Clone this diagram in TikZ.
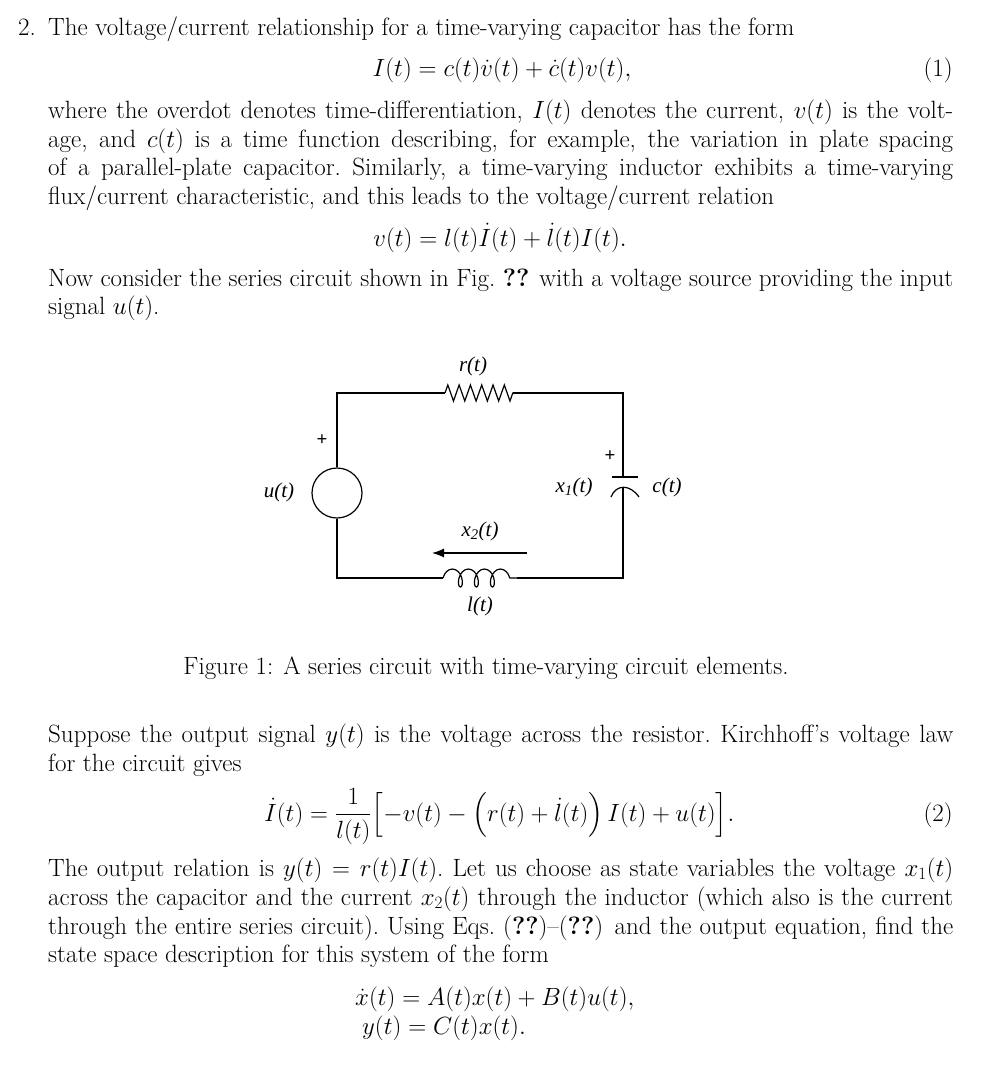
\documentclass[tikz,border=0pt]{standalone}
\usepackage{amsmath}
\usepackage{fontspec}
\newfontfamily\circfont{Liberation Serif}
\usetikzlibrary{decorations.pathmorphing,arrows.meta}
\tikzset{
  txt/.style={anchor=base west,inner sep=0pt,font=\fontsize{25}{28.6}\selectfont},
  eq/.style={anchor=base,inner sep=0pt,font=\fontsize{23.5}{28.6}\selectfont},
  lab/.style={inner sep=0pt,font=\circfont\itshape\fontsize{21}{24}\selectfont},
  plus/.style={inner sep=0pt,font=\circfont\bfseries\fontsize{19}{20}\selectfont},
  wire/.style={line width=1.2pt},
}
\newcommand{\fl}[1]{\makebox[905pt][s]{#1}}
\begin{document}
\begin{tikzpicture}[x=1pt,y=-1pt]
\useasboundingbox[fill=white] (0,0) rectangle (987,1066);
% text
\node[txt] (n2) at (18,35) {2.};
\node[txt] (l1) at (48,35) {The voltage/current relationship for a time-varying capacitor has the form};
\node[eq] (e1) at (502,76) {$I(t)=c(t)\dot v(t)+\dot c(t)v(t),$};
\node[txt,anchor=base east] (e1n) at (953,76) {(1)};
\node[txt] (l2) at (48,118) {\fl{where the overdot denotes time-differentiation, $I(t)$ denotes the current, $v(t)$ is the volt-}};
\node[txt] (l3) at (48,147) {\fl{age, and $c(t)$ is a time function describing, for example, the variation in plate spacing}};
\node[txt] (l4) at (48,175) {\fl{of a parallel-plate capacitor.\ Similarly, a time-varying inductor exhibits a time-varying}};
\node[txt] (l5) at (48,204) {flux/current characteristic, and this leads to the voltage/current relation};
\node[eq] (e2) at (500,246) {$v(t)=l(t)\dot I(t)+\dot l(t)I(t).$};
\node[txt] (l6) at (48,286) {\fl{Now consider the series circuit shown in Fig.\ \textbf{??} with a voltage source providing the input}};
\node[txt] (l7) at (48,314) {signal $u(t)$.};
\node[txt,anchor=base] (cap) at (486,674) {Figure 1: A series circuit with time-varying circuit elements.};
\node[txt] (l8) at (48,742) {\fl{Suppose the output signal $y(t)$ is the voltage across the resistor.\ Kirchhoff's voltage law}};
\node[txt] (l9) at (48,771) {for the circuit gives};
\node[eq,anchor=base west] (e3) at (264,821) {$\displaystyle \dot I(t)=\frac{1}{l(t)}\Bigl[-v(t)-\Bigl(r(t)+\dot l(t)\Bigr)\,I(t)+u(t)\Bigr].$};
\node[txt,anchor=base east] (e3n) at (953,821) {(2)};
\node[txt] (l10) at (48,876) {\fl{The output relation is $y(t)=r(t)I(t)$.\ Let us choose as state variables the voltage $x_1(t)$}};
\node[txt] (l11) at (48,905) {\fl{across the capacitor and the current $x_2(t)$ through the inductor (which also is the current}};
\node[txt] (l12) at (48,934) {\fl{through the entire series circuit).\ Using Eqs.\ (\textbf{??})--(\textbf{??}) and the output equation, find the}};
\node[txt] (l13) at (48,962) {state space description for this system of the form};
\node[eq,anchor=base west] (e4) at (355,1005) {$\dot x(t)=A(t)x(t)+B(t)u(t),$};
\node[eq,anchor=base west] (e5) at (362,1034) {$y(t)=C(t)x(t).$};
% circuit
\coordinate (tl) at (337,393);
\coordinate (tr) at (623,393);
\coordinate (bl) at (337,578);
\coordinate (br) at (623,578);
\coordinate (r1) at (445,393);
\coordinate (r2) at (513,393);
\coordinate (i1) at (443,578);
\coordinate (i2) at (517,578);
\coordinate (c1) at (623,477);
\coordinate (c2) at (623,487);
\node[wire,draw,circle,minimum size=50pt,inner sep=0pt] (src) at (337,493) {};
\draw[wire] (src.north) -- (tl) -- (r1);
\draw[wire,decorate,decoration={zigzag,amplitude=8pt,segment length=11.3pt}] (r1) -- (r2);
\draw[wire] (r2) -- (tr) -- (c1);
\draw[wire] (612,477) -- (638,477);
\draw[wire] (611,497) .. controls (616,484) and (630,484) .. (639,497);
\draw[wire] (c2) -- (br) -- (i2);
\draw[wire,decorate,decoration={coil,aspect=0.6,amplitude=9pt,segment length=16pt}] (i1) -- (i2);
\draw[wire] (i1) -- (bl) -- (src.south);
\coordinate (a1) at (527,553);
\coordinate (a2) at (432,553);
\draw[wire,-{Latex[length=12pt,width=9pt]}] (a1) -- (a2);
\node[lab] (lr) at (473,366) {r(t)};
\node[lab] (lu) at (279,492) {u(t)};
\node[lab] (lx1) at (574,487) {x\textsubscript{1}(t)};
\node[lab] (lc) at (667,487) {c(t)};
\node[lab] (lx2) at (480,531) {x\textsubscript{2}(t)};
\node[lab] (ll) at (480,606) {l(t)};
\node[plus] (p1) at (322,440) {+};
\node[plus] (p2) at (610,456) {+};
\end{tikzpicture}
\end{document}
